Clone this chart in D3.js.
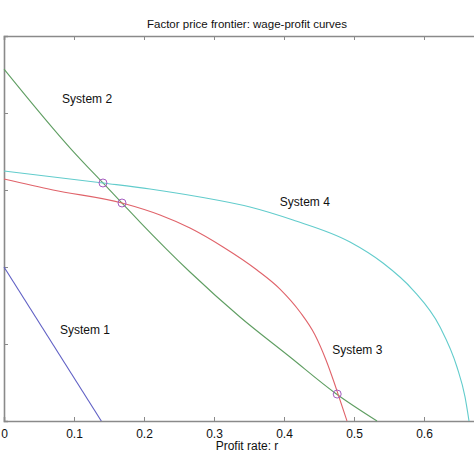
<!DOCTYPE html>
<html>
<head>
  <meta charset="UTF-8">
  <title>Factor price frontier</title>
  <script src="https://d3js.org/d3.v7.min.js"></script>
  <style>
    body { margin: 0; background: #fff; }
    text { font-family: "Liberation Sans", Arial, sans-serif; fill: #111; }
    .axis path, .axis line { stroke: #8a8a8a; }
  </style>
</head>
<body>
<svg id="chart" width="474" height="474"></svg>
<script>
  // wage-profit curves (r = profit rate, w = wage)
  var system1R = [0, 0.139];
  var system1W = [2.0, 0];

  var system2R = [0, 0.0971, 0.1414, 0.1686, 0.1943, 0.2657, 0.3371, 0.4086, 0.4729, 0.5329];
  var system2W = [4.571, 3.519, 3.091, 2.831, 2.584, 1.935, 1.351, 0.831, 0.364, 0];

  var system3R = [0, 0.070, 0.1686, 0.2229, 0.2657, 0.3129, 0.3614, 0.3943, 0.4229, 0.4443, 0.46, 0.4714, 0.48, 0.49];
  var system3W = [3.143, 3.0, 2.831, 2.675, 2.506, 2.26, 1.961, 1.714, 1.416, 1.117, 0.792, 0.506, 0.273, 0];

  var system4R = [0, 0.1414, 0.2086, 0.28, 0.3514, 0.4129, 0.4943, 0.5414, 0.5843, 0.6229, 0.6471, 0.6586, 0.6643];
  var system4W = [3.247, 3.091, 3.013, 2.909, 2.779, 2.61, 2.325, 2.052, 1.701, 1.221, 0.701, 0.312, 0];

  // switch points
  var markerR = [0.1414, 0.1686, 0.476];
  var markerW = [3.091, 2.831, 0.35];

  var labelNames = ["System 1", "System 2", "System 3", "System 4"];
  var labelR = [0.08, 0.083, 0.469, 0.394];
  var labelW = [1.13, 4.13, 0.87, 2.79];

  var xTicks = [0, 0.1, 0.2, 0.3, 0.4, 0.5, 0.6];
  var yTicks = [0, 1, 2, 3, 4, 5];

  var svg = d3.select("#chart");

  // plot box runs past the right edge of the window, like the cropped original
  var x = d3.scaleLinear().domain([0, 0.7]).range([4, 494]);
  var y = d3.scaleLinear().domain([0, 5]).range([421, 36]);

  // axes with inward ticks on all sides
  svg.append("g").attr("class", "axis")
    .attr("transform", "translate(0," + y(0) + ")")
    .call(d3.axisBottom(x).tickValues(xTicks).tickSize(-4).tickPadding(8)
      .tickFormat(function(d) { return d === 0 ? "0" : d3.format(".1f")(d); }))
    .call(function(g) {
      g.selectAll("text").attr("font-size", "12px").attr("font-family", "Liberation Sans, Arial, sans-serif").attr("fill", "#111");
      g.select(".domain").attr("stroke-width", 1.6);
    });

  svg.append("g").attr("class", "axis")
    .attr("transform", "translate(0," + y(5) + ")")
    .call(d3.axisTop(x).tickValues(xTicks).tickSize(-4).tickFormat(""))
    .call(function(g) { g.select(".domain").attr("stroke-width", 1.6); });

  svg.append("g").attr("class", "axis")
    .attr("transform", "translate(" + x(0) + ",0)")
    .call(d3.axisLeft(y).tickValues(yTicks).tickSize(-4).tickFormat(""))
    .call(function(g) { g.select(".domain").attr("stroke-width", 1.6); });

  var line = d3.line()
    .x(function(d) { return x(d[0]); })
    .y(function(d) { return y(d[1]); })
    .curve(d3.curveMonotoneX);

  function draw(rs, ws, colour) {
    svg.append("path")
      .datum(d3.zip(rs, ws))
      .attr("d", line)
      .attr("fill", "none")
      .attr("stroke", colour)
      .attr("stroke-width", 1.1);
  }

  draw(system1R, system1W, "#5f5fc4");
  draw(system2R, system2W, "#5f9e62");
  draw(system3R, system3W, "#e0636a");
  draw(system4R, system4W, "#62cccc");

  svg.selectAll(".switch")
    .data(d3.zip(markerR, markerW))
    .enter().append("circle")
    .attr("class", "switch")
    .attr("cx", function(d) { return x(d[0]); })
    .attr("cy", function(d) { return y(d[1]); })
    .attr("r", 4)
    .attr("fill", "none")
    .attr("stroke", "#a55cc0")
    .attr("stroke-width", 1);

  svg.selectAll(".label")
    .data(labelNames)
    .enter().append("text")
    .attr("class", "label")
    .attr("x", function(d, i) { return x(labelR[i]); })
    .attr("y", function(d, i) { return y(labelW[i]); })
    .attr("font-size", "12px")
    .text(function(d) { return d; });

  svg.append("text")
    .attr("x", 247).attr("y", 28)
    .attr("text-anchor", "middle")
    .attr("font-size", "11.5px")
    .text("Factor price frontier: wage-profit curves");

  svg.append("text")
    .attr("x", 247).attr("y", 450)
    .attr("text-anchor", "middle")
    .attr("font-size", "12px")
    .text("Profit rate: r");
</script>
</body>
</html>
